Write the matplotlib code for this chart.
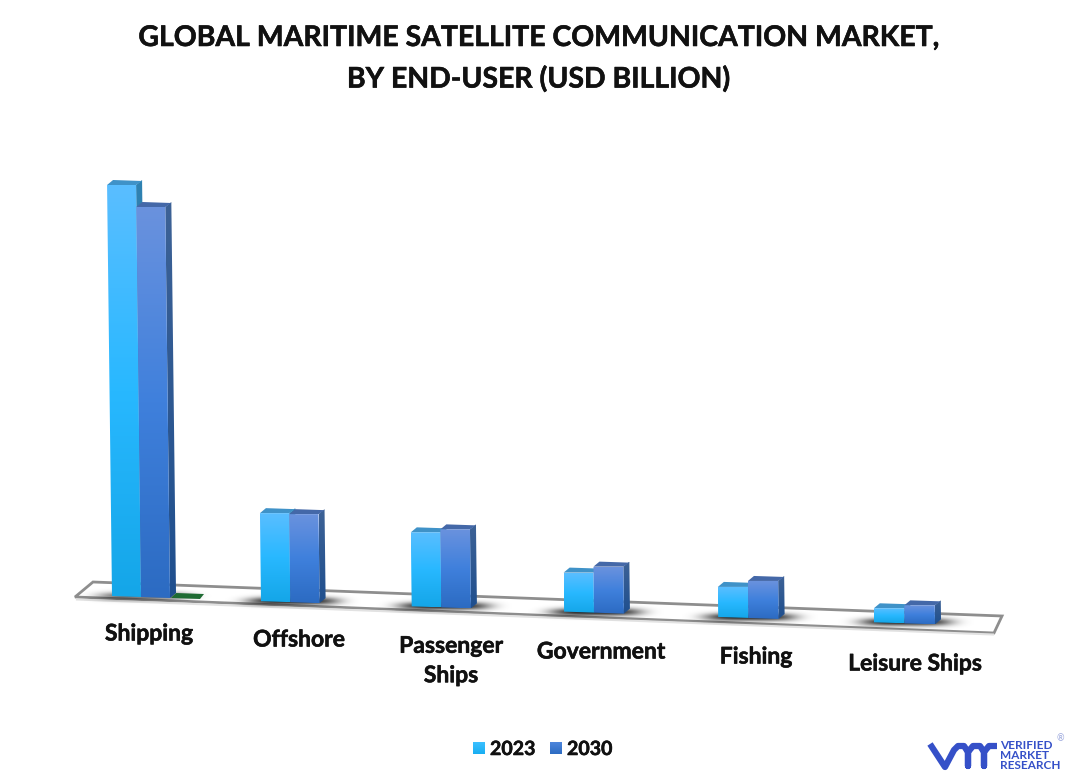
# Global maritime satcom chart, drawn as fake 3D bars on a tilted floor
import matplotlib
matplotlib.use("Agg")
import matplotlib.pyplot as plt
import matplotlib.patheffects as pe
from matplotlib.colors import LinearSegmentedColormap
from matplotlib.patches import Polygon
import numpy as np

categories = ["Shipping", "Offshore", "Passenger\nShips", "Government", "Fishing", "Leisure Ships"]
years = ["2023", "2030"]
values_2023 = [4.11, 0.88, 0.74, 0.39, 0.30, 0.14]
values_2030 = [3.90, 0.88, 0.78, 0.46, 0.37, 0.18]
values_other = [0.0]

FONT = "Lato"
W, H = 1077, 781
depth_x, depth_y = 6, 5
unit = 100  # pixels per value unit
label_x = [149, 299, 451, 601, 756, 915]
label_y = [634, 640, 661, 652, 657, 664]
heavy = [pe.withStroke(linewidth=0.4, foreground="#111111")]

cmap_a = LinearSegmentedColormap.from_list("a", ["#5ABEFF", "#28B8FF", "#14A6E8"])
cmap_b = LinearSegmentedColormap.from_list("b", ["#6A92DE", "#3F80DC", "#2C6BC2"])
cmap_side_a = LinearSegmentedColormap.from_list("sa", ["#2F82B2", "#1F6E9E"])
cmap_side_b = LinearSegmentedColormap.from_list("sb", ["#3D6296", "#1F4F8E"])
cmap_leg_a = LinearSegmentedColormap.from_list("la", ["#3CC0FF", "#18AEF2"])
cmap_leg_b = LinearSegmentedColormap.from_list("lb", ["#4E86DC", "#2C6BC2"])


def group_x(i):
    return 112 + 149 * i + 1.7 * i * (i - 1) / 2


def bar_width(i):
    return 29 + 0.3 * i


def base_y(x):
    return 596 + (x - 112) * 0.0345


def gradient_face(ax, pts, cmap, z):
    pts = np.array(pts)
    grad = np.linspace(0, 1, 256).reshape(-1, 1)
    im = ax.imshow(grad, cmap=cmap, aspect="auto", zorder=z,
                   extent=[pts[:, 0].min(), pts[:, 0].max(), pts[:, 1].max(), pts[:, 1].min()])
    clip = Polygon(pts, closed=True, transform=ax.transData)
    im.set_clip_path(clip)


def draw_bar(ax, x, bar_w, value, cmap, cmap_side, top_col, z):
    h = value * unit
    y0 = base_y(x)
    lean = h * 0.012
    front = [(x - lean, y0 - h), (x + bar_w - lean, y0 - h), (x + bar_w, y0 + 1), (x, y0)]
    side = [(x + bar_w - lean, y0 - h), (x + bar_w - lean + depth_x, y0 - h - depth_y),
            (x + bar_w + depth_x, y0 - 4), (x + bar_w, y0 + 1)]
    top = [(x - lean, y0 - h), (x - lean + depth_x, y0 - h - depth_y),
           (x + bar_w - lean + depth_x, y0 - h - depth_y + 1), (x + bar_w - lean, y0 - h)]
    gradient_face(ax, side, cmap_side, z)
    ax.add_patch(Polygon(top, closed=True, fc=top_col, ec="none", zorder=z + 0.1))
    gradient_face(ax, front, cmap, z + 0.2)


def draw_shadow(ax, cx, cy, half_w, half_h, strength):
    xx = np.linspace(-1, 1, 200)
    yy = np.linspace(-1, 1, 60)
    gx, gy = np.meshgrid(xx, yy)
    alpha = np.exp(-(gx ** 4) * 5 - (gy ** 2) * 5) * strength
    rgba = np.zeros((60, 200, 4))
    rgba[..., 3] = alpha
    ax.imshow(rgba, aspect="auto", zorder=2, interpolation="bilinear",
              extent=[cx - half_w, cx + half_w, cy + half_h, cy - half_h])


fig = plt.figure(figsize=(W / 100, H / 100), dpi=100)
ax = fig.add_axes([0, 0, 1, 1])

# floor
floor = [(75, 597), (93, 582), (1002, 616), (994, 633)]
ax.add_patch(Polygon(floor, closed=True, fc="white", ec="#8E8E8E", lw=2, zorder=1))
ax.plot([77, 993], [599.5, 634.5], color="#E2E2E2", lw=1.5, zorder=1.5)

for i in range(len(categories)):
    x = group_x(i)
    w = bar_width(i)
    strength = 0.85 if i else 0.6
    draw_shadow(ax, x + 32, base_y(x + 32) - 1, 68, 9, strength)
    draw_bar(ax, x, w, values_2023[i], cmap_a, cmap_side_a, "#3F92C8", 3 + i)
    draw_bar(ax, x + w, w, values_2030[i], cmap_b, cmap_side_b, "#4468A8", 3.5 + i)
    ax.text(label_x[i], label_y[i], categories[i], ha="center", va="center", fontsize=16.5,
            fontweight="bold", family=FONT, color="#111111", linespacing=1.5, zorder=20,
            path_effects=heavy)

# zero height third series, only its lid shows
for i, v in enumerate(values_other):
    w = bar_width(i)
    x = group_x(i) + 2 * w
    y0 = base_y(x) - v * unit
    ax.add_patch(Polygon([(x + 1, y0), (x + w + 1, y0 + 1), (x + w + 5, y0 - 4), (x + 6, y0 - 5)],
                         closed=True, fc="#1F6B33", ec="none", zorder=2.5))

# title
ax.text(538, 38, "GLOBAL MARITIME SATELLITE COMMUNICATION MARKET,", ha="center", va="center",
        fontsize=20.45, fontweight="bold", family=FONT, color="#111111", path_effects=heavy)
ax.text(538, 79, "BY END-USER (USD BILLION)", ha="center", va="center",
        fontsize=20.45, fontweight="bold", family=FONT, color="#111111", path_effects=heavy)

# legend
for x, label, cm in zip([473, 550], years, [cmap_leg_a, cmap_leg_b]):
    gradient_face(ax, [(x, 742), (x + 12, 742), (x + 12, 754), (x, 754)], cm, 5)
    ax.text(x + 17, 749, label, ha="left", va="center", fontsize=14.1,
            fontweight="bold", family=FONT, color="#111111", path_effects=heavy)

# logo
logo_x = [930, 945, 954, 958, 964, 968, 968, 968, 973, 980, 984, 984, 984, 989, 997]
logo_y = [744, 767, 750, 746, 746, 752, 766, 752, 746, 746, 752, 766, 752, 746, 746]
ax.plot(logo_x, logo_y, color="#3550C8", lw=4.5, solid_joinstyle="round", solid_capstyle="butt", zorder=10)
for y, word in zip([745.5, 755.5, 765.5], ["VERIFIED", "MARKET", "RESEARCH"]):
    ax.text(1000, y, word, ha="left", va="center", fontsize=8.5,
            fontweight="bold", family=FONT, color="#3550C8", zorder=10)
ax.text(1060, 739, "®", ha="center", va="center", fontsize=6.5, family=FONT, color="#9AA6DC")

ax.set_xlim(0, W)
ax.set_ylim(H, 0)
ax.axis("off")

plt.savefig("out.png", dpi=100)
plt.close()
